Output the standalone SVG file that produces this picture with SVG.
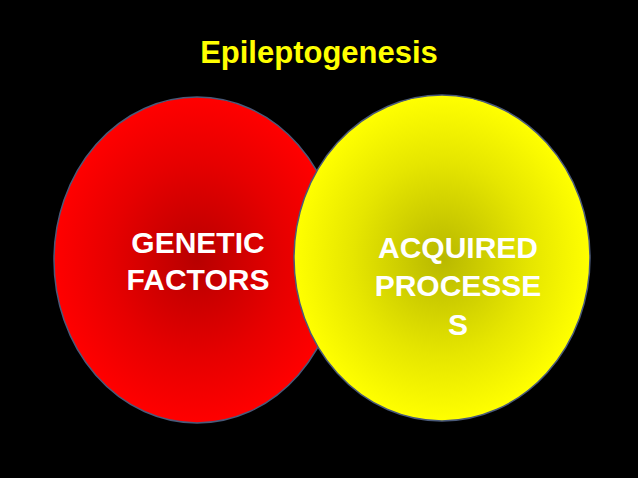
<svg xmlns="http://www.w3.org/2000/svg" width="638" height="478" viewBox="0 0 638 478">
<style>
.t{font-family:"Liberation Sans",Arial,sans-serif;font-weight:bold;text-anchor:middle}
.w{fill:#fff;font-size:30px}
.c{stroke:#4a5a7a;stroke-width:1.5}
</style>
<defs>
<radialGradient id="rg"><stop offset="0" stop-color="#b80000"/><stop offset="0.6" stop-color="#e60000"/><stop offset="1" stop-color="#ff0000"/></radialGradient>
<radialGradient id="yg"><stop offset="0" stop-color="#b8b800"/><stop offset="0.6" stop-color="#e6e600"/><stop offset="1" stop-color="#ffff00"/></radialGradient>
</defs>
<rect width="638" height="478" fill="#000"/>
<text class="t" x="319" y="63" font-size="31" fill="#ffff00">Epileptogenesis</text>
<g id="genetic">
<ellipse class="c" cx="197" cy="260" rx="143" ry="163" fill="url(#rg)"/>
<text class="t w" x="198" y="253">GENETIC</text>
<text class="t w" x="198" y="290">FACTORS</text>
</g>
<g id="acquired">
<ellipse class="c" cx="442" cy="258" rx="148" ry="163" fill="url(#yg)"/>
<text class="t w" x="458" y="258">ACQUIRED</text>
<text class="t w" x="458" y="296">PROCESSE</text>
<text class="t w" x="458" y="335">S</text>
</g>
<g id="connectors"/>
</svg>
